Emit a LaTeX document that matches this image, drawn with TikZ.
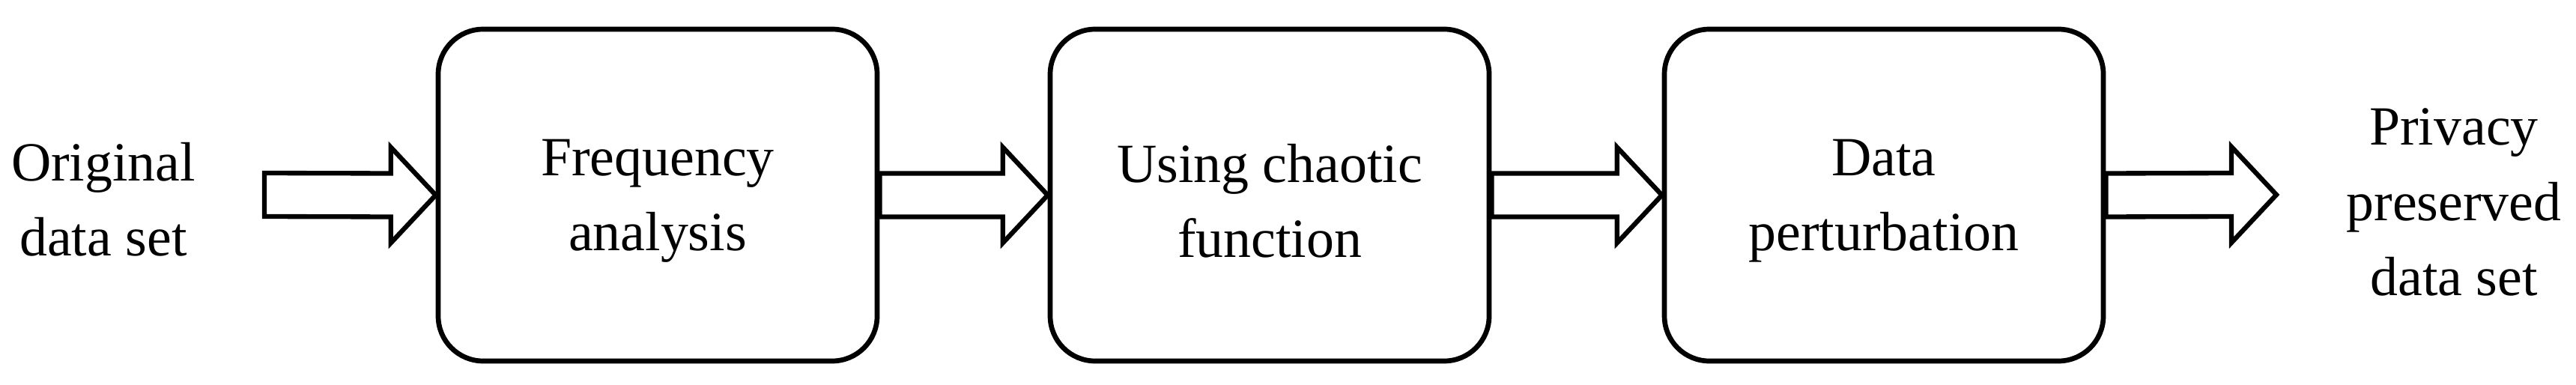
\documentclass[tikz,border=0pt]{standalone}
\usepackage{fontspec}
\setmainfont{Liberation Serif}
\usetikzlibrary{calc}
\tikzset{
  procbox/.style={draw=black, line width=1.9pt, rounded corners=0.6cm, minimum width=5.86cm, minimum height=4.43cm, inner sep=0pt},
  plaintext/.style={align=center, inner sep=0pt},
  barrow/.style={draw=black, line width=1.8pt, fill=white, line join=miter}
}
\newcommand\blockarr[2]{%
  \draw[barrow] ($(#1)+(0,0.29)$) -- ($(#2)+(-0.6,0.29)$) -- ($(#2)+(-0.6,0.64)$) -- (#2)
    -- ($(#2)+(-0.6,-0.64)$) -- ($(#2)+(-0.6,-0.29)$) -- ($(#1)+(0,-0.29)$) -- cycle;}
\begin{document}
\begin{tikzpicture}
\useasboundingbox[fill=white] (0,0) rectangle (34.39,5.14);
\fontsize{21}{28.5}\selectfont
\node[plaintext] (in) at (1.38,2.48) {Original\\data set};
\node[procbox] (b1) at (8.78,2.535) {};
\node[procbox] (b2) at (16.95,2.535) {};
\node[procbox] (b3) at (25.15,2.535) {};
\node[plaintext] (t1) at ($(b1.center)+(0,-0.08)$) {Frequency\\analysis};
\node[plaintext] (t2) at ($(b2.center)+(0,-0.08)$) {Using chaotic\\function};
\node[plaintext] (t3) at ($(b3.center)+(0,-0.08)$) {Data\\perturbation};
\node[plaintext] (out) at (32.76,2.44) {Privacy\\preserved\\data set};
\coordinate (s0) at (3.53,2.54);
\coordinate (e4) at (30.39,2.54);
\blockarr{s0}{b1.west}
\blockarr{b1.east}{b2.west}
\blockarr{b2.east}{b3.west}
\blockarr{b3.east}{e4}
\end{tikzpicture}
\end{document}
